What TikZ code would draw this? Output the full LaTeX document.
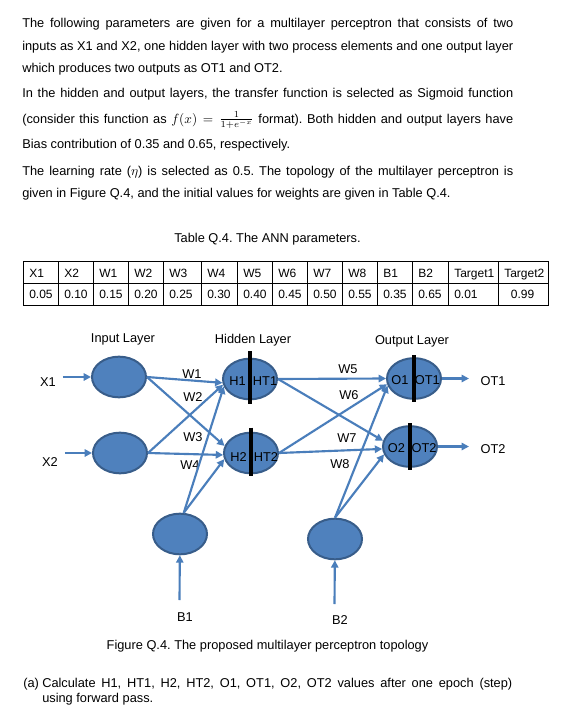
\documentclass[tikz,border=0pt]{standalone}
\usepackage{amsmath}
\usepackage{fontspec}
\setmainfont{Liberation Sans}
\usepackage{xcolor}
\usetikzlibrary{arrows.meta, positioning, shapes.geometric}
\definecolor{nodeblue}{RGB}{79,129,189}
\definecolor{nodeedge}{RGB}{56,93,138}
\definecolor{linkblue}{RGB}{74,126,187}
\frenchspacing

\begin{document}
\begin{tikzpicture}[x=0.75pt, y=-0.75pt, >={Triangle[length=5.5pt, width=5.5pt]},
  font=\fontsize{9.6}{11.5}\selectfont,
  para/.style={anchor=base west, inner sep=0pt, align=justify, text width=368.25pt},
  lbl/.style={inner sep=0pt},
  cell/.style={anchor=base west, inner sep=0pt, font=\fontsize{9}{11}\selectfont},
  neuron/.style={ellipse, draw=nodeedge, line width=1.5pt, fill=nodeblue,
    minimum width=40.5pt, minimum height=30.5pt, inner sep=0pt},
  link/.style={->, draw=linkblue, line width=1.6pt},
  bar/.style={draw=black, line width=2.6pt}]
  \fill[white] (0,0) rectangle (560,706);
  \useasboundingbox (0,0) rectangle (560,706);

  \node[para, font=\fontsize{9.6}{16.9}\selectfont] (p1) at (22,27.6) {The following parameters
    are given for a multilayer perceptron that consists of two\linebreak inputs as X1 and X2, one
    hidden layer with two process elements and one output layer\linebreak which produces two
    outputs as OT1 and OT2.};
  \node[para, font=\fontsize{9.6}{19.1}\selectfont] (p2) at (22,97.6) {In the hidden and output
    layers, the transfer function is selected as Sigmoid function\linebreak (consider this function
    as $f(x)=\frac{1}{1+e^{-x}}$ format). Both hidden and output layers have\linebreak Bias
    contribution of 0.35 and 0.65, respectively.};
  \node[para, font=\fontsize{9.6}{16.5}\selectfont] (p3) at (22,175.6) {The learning rate
    ($\eta$) is selected as 0.5. The topology of the multilayer perceptron is\linebreak given in
    Figure Q.4, and the initial values for weights are given in Table Q.4.};

  \node[lbl, anchor=base] (tcap) at (267.5,242.6) {Table Q.4. The ANN parameters.};
  \draw[line width=0.6pt] (23,261) rectangle (548,305) (23,283) -- (548,283);
  \foreach \x/\h/\v [count=\i] in {23/X1/0.05, 58/X2/0.10, 93/W1/0.15, 128/W2/0.20,
      163/W3/0.25, 201/W4/0.30, 237/W5/0.40, 272/W6/0.45, 307/W7/0.50, 342/W8/0.55,
      377/B1/0.35, 412/B2/0.65, 448/Target1/0.01, 498/Target2/\hspace{5pt}0.99} {
    \draw[line width=0.6pt] (\x,261) -- (\x,305);
    \node[cell] (th\i) at (\x+6,277.3) {\h};
    \node[cell] (tv\i) at (\x+6,298.3) {\v};
  }

  \node[lbl, anchor=base] (inlayer) at (123,342.5) {Input Layer};
  \node[lbl, anchor=base] (hidlayer) at (253,343.5) {Hidden Layer};
  \node[lbl, anchor=base] (outlayer) at (412,344.5) {Output Layer};

  \node[neuron] (I1) at (119,377) {};
  \node[neuron] (I2) at (120,453) {};
  \node[neuron] (H1) at (250,379) {};
  \node[neuron] (H2) at (251,453) {};
  \node[neuron] (O1) at (414,378.5) {};
  \node[neuron] (O2) at (410,446.5) {};
  \node[neuron] (B1) at (180,534) {};
  \node[neuron] (B2) at (335,539) {};

  \draw[bar] ([yshift=5pt]H1.north) -- ([yshift=-3pt]H1.south);
  \draw[bar] ([yshift=3pt]H2.north) -- ([yshift=-1.5pt]H2.south);
  \draw[bar] ([yshift=1.5pt]O1.north) -- ([yshift=-1.5pt]O1.south);
  \draw[bar] ([yshift=1.5pt]O2.north) -- ([yshift=-1.5pt]O2.south);
  \node[lbl, anchor=east] (h1in) at ([xshift=-3pt, yshift=-1.5pt]H1.center) {H1};
  \node[lbl, anchor=west] (h1out) at ([xshift=2pt, yshift=-1.5pt]H1.center) {HT1};
  \node[lbl, anchor=east] (h2in) at ([xshift=-3pt, yshift=-3pt]H2.center) {H2};
  \node[lbl, anchor=west] (h2out) at ([xshift=2pt, yshift=-3pt]H2.center) {HT2};
  \node[lbl, anchor=east] (o1in) at ([xshift=-4pt, yshift=-1.5pt]O1.center) {O1};
  \node[lbl, anchor=west] (o1out) at ([xshift=0.5pt, yshift=-1.5pt]O1.center) {OT1};
  \node[lbl, anchor=east] (o2in) at ([xshift=-3.5pt, yshift=-1.5pt]O2.center) {O2};
  \node[lbl, anchor=west] (o2out) at ([xshift=1pt, yshift=-1.5pt]O2.center) {OT2};

  \node[lbl] (X1) at (48,382) {X1};
  \node[lbl] (X2) at (50,462) {X2};
  \node[lbl] (OT1) at (493,381) {OT1};
  \node[lbl] (OT2) at (493,449) {OT2};
  \node[lbl] (b1lbl) at (185,617) {B1};
  \node[lbl] (b2lbl) at (340,620) {B2};
  \coordinate (b1in) at (179.5,600);
  \coordinate (b2in) at (334.5,604);

  \node[lbl] (w1) at (192,374) {W1};
  \node[lbl] (w2) at (193,397) {W2};
  \node[lbl] (w3) at (193,437) {W3};
  \node[lbl] (w4) at (190,465) {W4};
  \node[lbl] (w5) at (348,369) {W5};
  \node[lbl] (w6) at (349,395) {W6};
  \node[lbl] (w7) at (347,438) {W7};
  \node[lbl] (w8) at (340,464) {W8};

  \draw[link, shorten <=5pt] (X1.east |- I1) -- (I1);
  \draw[link, shorten <=5pt] (X2.east |- I2) -- (I2);
  \draw[link] (I1.east) -- (H1.188);
  \draw[link] (I1.east) -- (H2.165);
  \draw[link] (I2.east) -- (H1.192);
  \draw[link] (I2.east) -- (H2.184);
  \draw[link] (B1.80) -- (H1.196);
  \draw[link] (B1.80) -- (H2.193);
  \draw[link] (H1.east) -- (O1.west);
  \draw[link] (H1.east) -- (O2.168);
  \draw[link] (H2.east) -- (O1.192);
  \draw[link] (H2.east) -- (O2.185);
  \draw[link] (B2.north) -- (O1.195);
  \draw[link] (B2.north) -- (O2.197);
  \draw[link, shorten >=8.5pt] (O1) -- (OT1.west |- O1);
  \draw[link, shorten >=8.5pt] (O2) -- (OT2.west |- O2);
  \draw[link] (b1in) -- (B1);
  \draw[link] (b2in) -- (B2);

  \node[lbl, anchor=base] (fcap) at (267.5,649.6) {Figure Q.4. The proposed multilayer
    perceptron topology};
  \node[lbl, anchor=base west] (qa) at (23,687) {(a)};
  \node[para, text width=352.5pt, font=\fontsize{9.6}{11.25}\selectfont] (qtext) at (42,687)
    {Calculate H1, HT1, H2, HT2, O1, OT1, O2, OT2 values after one epoch (step)\linebreak using
    forward pass.};
\end{tikzpicture}
\end{document}
